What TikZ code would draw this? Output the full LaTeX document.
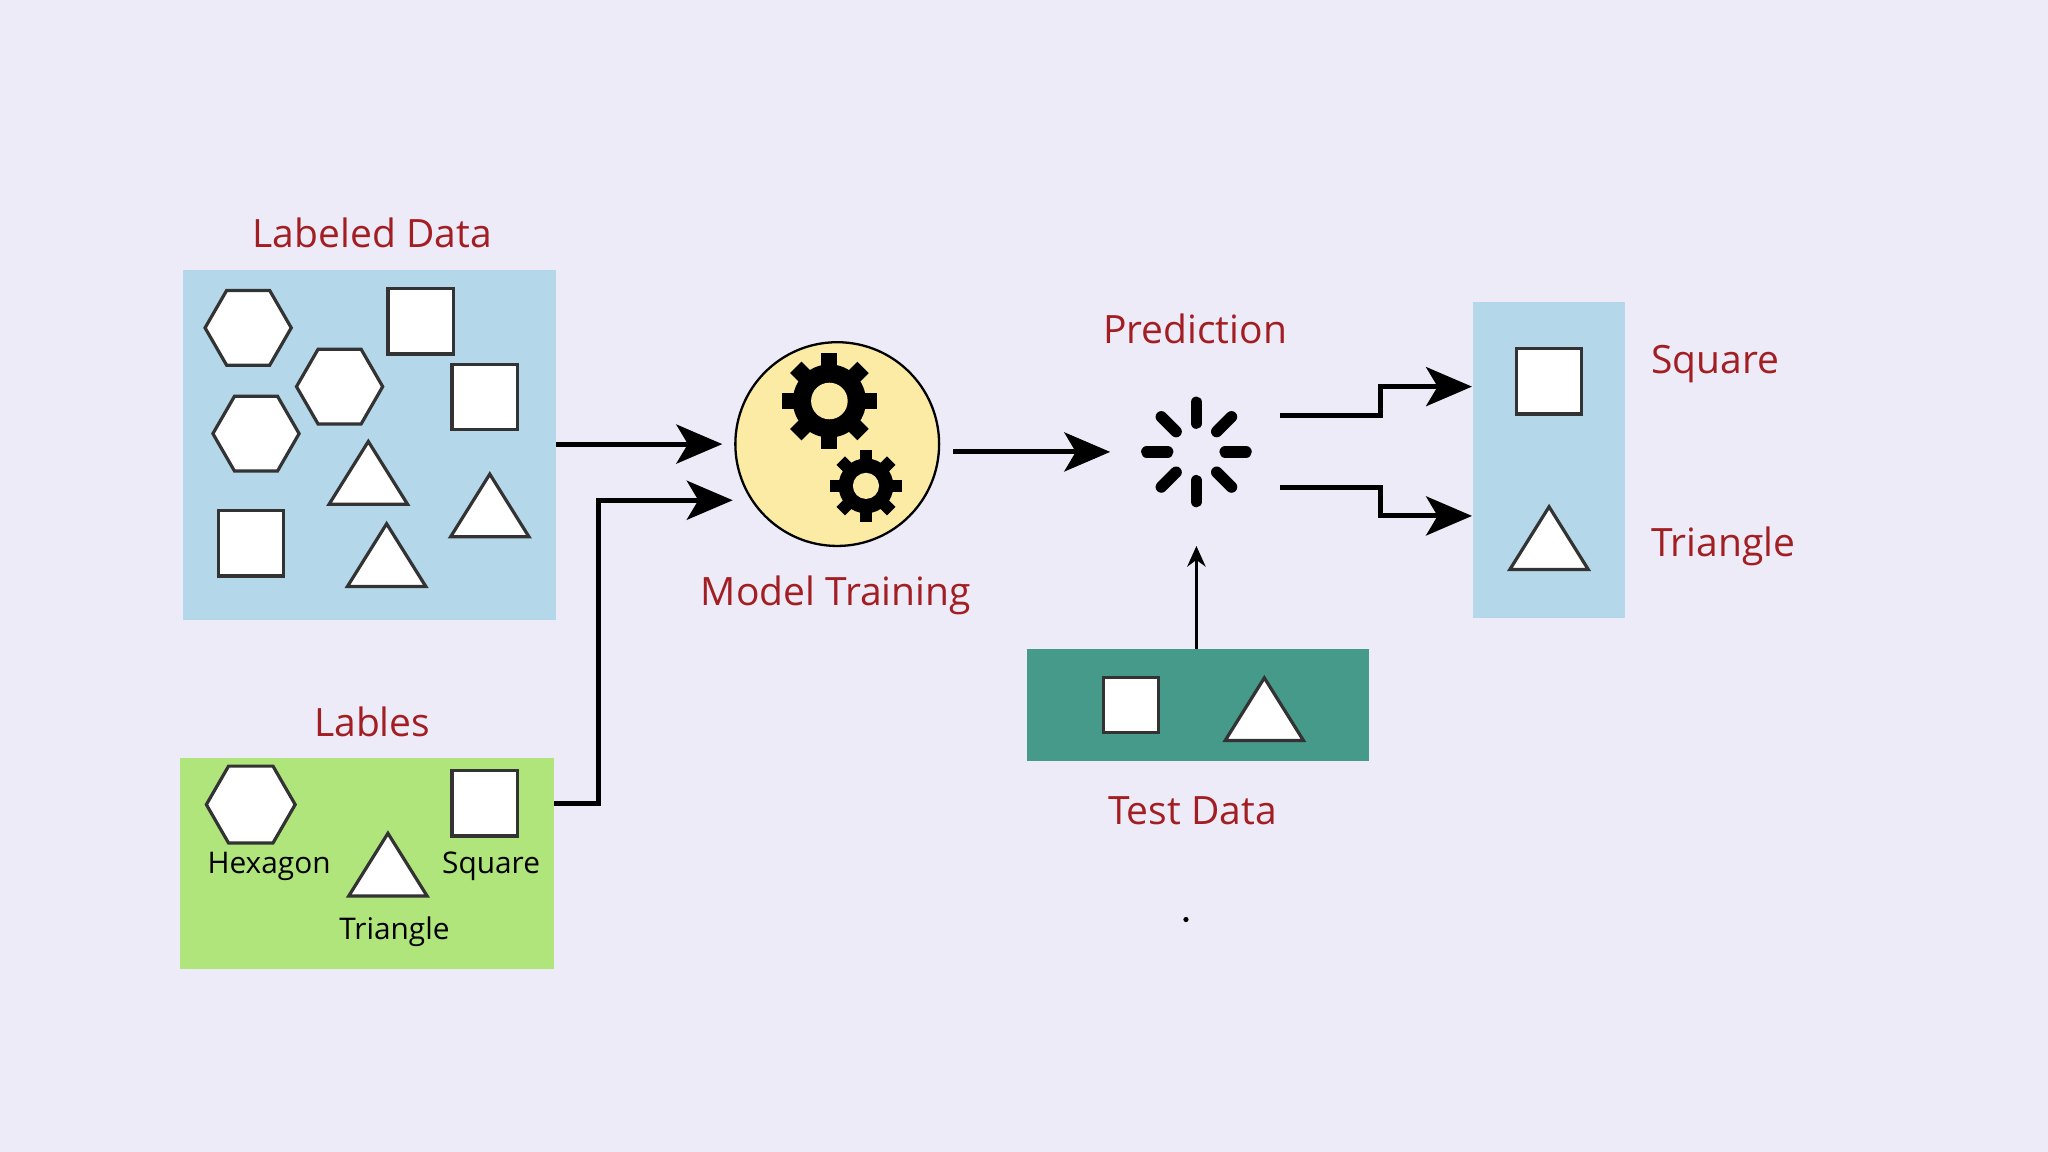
\documentclass[tikz,border=0pt]{standalone}
\usepackage{fontspec}
\setmainfont{Open Sans}
\usetikzlibrary{arrows.meta}
\definecolor{bg}{HTML}{ECEBF7}
\definecolor{lblue}{HTML}{B4D8EA}
\definecolor{lgreen}{HTML}{B0E57C}
\definecolor{teal}{HTML}{469A8A}
\definecolor{dred}{HTML}{A31E22}
\definecolor{yel}{HTML}{FBEBA5}
\tikzset{
 title/.style={text=dred,font=\fontsize{17}{20}\selectfont},
 small/.style={font=\fontsize{13}{15}\selectfont},
 shp/.style={draw=black!80,fill=white,line width=1.4pt},
 arr/.style={line width=2.2pt,-{Stealth[length=20pt,width=17pt,inset=5pt]}},
 spin/.style={line width=5pt,line cap=round},
}
\newcommand{\hexa}[3]{\draw[shp] (#1,#2) ++(0:#3) -- ++(120:#3) -- ++(180:#3) -- ++(240:#3) -- ++(300:#3) -- ++(0:#3) -- cycle;}
\newcommand{\sq}[3]{\draw[shp] (#1-#3/2,#2-#3/2) rectangle (#1+#3/2,#2+#3/2);}
\newcommand{\tri}[2]{\draw[shp] (#1-30,#2+24) -- (#1+30,#2+24) -- (#1,#2-24) -- cycle;}
\newcommand{\gear}[4]{\fill (#1,#2) circle (#3);
 \foreach \a in {0,45,...,315}{\fill[rotate around={\a:(#1,#2)}] (#1-#3*0.22,#2) rectangle (#1+#3*0.22,#2-#3*1.3);}
 \fill[yel] (#1,#2) circle (#4);}
\begin{document}
\begin{tikzpicture}[x=0.02cm,y=-0.02cm]
\fill[bg] (0,0) rectangle (1568,882);
% labeled data
\fill[lblue] (140,207) rectangle (426,475);
\node[title] at (285,178) {Labeled Data};
\hexa{190}{251}{33}\hexa{260}{296}{33}\hexa{196}{332}{33}
\sq{322}{246}{50}\sq{371}{304}{50}\sq{192}{416}{50}
\tri{282}{362}\tri{375}{387}\tri{296}{425}
% labels
\fill[lgreen] (138,580) rectangle (424,742);
\node[title] at (285,553) {Lables};
\hexa{192}{616}{34}\sq{371}{615}{50}\tri{297}{662}
\node[small] at (206,663) {Hexagon};
\node[small] at (376,663) {Square};
\node[small] at (302,713) {Triangle};
% model
\node[circle,draw=black,line width=1pt,fill=yel,minimum size=156*0.02cm,inner sep=0] (mt) at (641,340) {};
\gear{635}{307}{28}{14}
\gear{663}{372}{21}{10}
\node[title] at (640,456) {Model Training};
\coordinate (a1) at (426,340); \coordinate (a1e) at (553,340);
\draw[arr] (a1) -- (a1e);
\coordinate (b0) at (424,615); \coordinate (b1) at (458,615); \coordinate (b2) at (458,383); \coordinate (b3) at (561,383);
\draw[arr] (b0) -- (b1) -- (b2) -- (b3);
\coordinate (c0) at (730,346); \coordinate (c1) at (850,346);
\draw[arr] (c0) -- (c1);
% spinner
\foreach \a in {0,45,...,315}{\draw[spin] (916,346) ++(\a:22) -- ++(\a:16);}
\node[title] at (915,252) {Prediction};
% test data
\fill[teal] (786,497) rectangle (1048,583);
\sq{866}{540}{42}\tri{968}{543}
\node[title] at (913,621) {Test Data};
\coordinate (t0) at (916,497); \coordinate (t1) at (916,418);
\draw[line width=1.4pt,-{Stealth[length=9pt,width=8pt]}] (t0) -- (t1);
% output
\fill[lblue] (1128,231) rectangle (1244,473);
\sq{1186}{292}{50}\tri{1186}{412}
\node[title,anchor=west] at (1258,279) {Square};
\node[title,anchor=west] at (1258,418) {Triangle};
\coordinate (o0) at (980,318); \coordinate (o1) at (1057,318); \coordinate (o2) at (1057,296); \coordinate (o3) at (1127,296);
\draw[arr] (o0) -- (o1) -- (o2) -- (o3);
\coordinate (p0) at (980,373); \coordinate (p1) at (1057,373); \coordinate (p2) at (1057,395); \coordinate (p3) at (1127,395);
\draw[arr] (p0) -- (p1) -- (p2) -- (p3);
\fill (908,704) circle (2);
\end{tikzpicture}
\end{document}
